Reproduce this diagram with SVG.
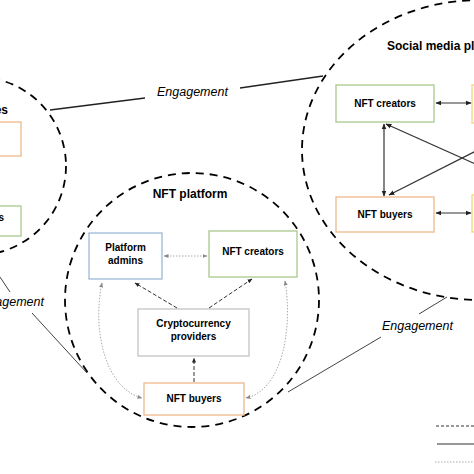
<svg xmlns="http://www.w3.org/2000/svg" width="474" height="474" viewBox="0 0 474 474">
<style>
text{font-family:"Liberation Sans",Arial,sans-serif;fill:#000}
.t{font-weight:bold;font-size:10px;text-anchor:middle}
.h{font-weight:bold;font-size:12px;text-anchor:middle}
.e{font-style:italic;font-size:12.5px}
.ring{fill:none;stroke:#000;stroke-width:1.8;stroke-dasharray:8 6}
.box{fill:#fff;stroke-width:1.3}
.g{stroke:#a9c98c}.o{stroke:#f0b88a}.b{stroke:#9dbbd8}.gr{stroke:#c4c4c4}.y{stroke:#f3d77e;fill:#fffbe9}
.sol{fill:none;stroke:#333;stroke-width:1.2}
.eng{fill:none;stroke:#222;stroke-width:1.5}
.eng2{fill:none;stroke:#444;stroke-width:1}
.dsh{fill:none;stroke:#333;stroke-width:1;stroke-dasharray:4 2}
.dot{fill:none;stroke:#aaa;stroke-width:1;stroke-dasharray:1.5 1.5}
</style>
<defs>
<marker id="ab" viewBox="0 0 10 10" refX="9" refY="5" markerWidth="5" markerHeight="5" orient="auto-start-reverse"><path d="M0,1L10,5L0,9z" fill="#222"/></marker>
<marker id="ag" viewBox="0 0 10 10" refX="9" refY="5" markerWidth="5" markerHeight="5" orient="auto-start-reverse"><path d="M0,1L10,5L0,9z" fill="#888"/></marker>
</defs>
<rect width="474" height="474" fill="#fff"/>

<g id="rings">
<circle class="ring" cx="-23" cy="166" r="89"/>
<circle class="ring" cx="192" cy="300" r="127"/>
<ellipse class="ring" cx="480" cy="150" rx="178" ry="150"/>
</g>

<g id="left-community">
<text class="h" x="8" y="114" style="text-anchor:end">es</text>
<rect class="box o" x="-40" y="122" width="61" height="34"/>
<rect class="box g" x="-40" y="206" width="61" height="30"/>
<text class="t" x="4" y="221" style="text-anchor:end">s</text>
</g>

<g id="nft-platform">
<text class="h" x="190" y="198">NFT platform</text>
<g id="np-admins"><rect class="box b" x="89" y="233" width="73" height="46"/>
<text class="t" x="125.5" y="251">Platform</text><text class="t" x="125.5" y="264">admins</text></g>
<g id="np-creators"><rect class="box g" x="209" y="231" width="88" height="46"/>
<text class="t" x="253" y="255">NFT creators</text></g>
<g id="np-crypto"><rect class="box gr" x="138" y="309" width="111" height="47"/>
<text class="t" x="193.5" y="327">Cryptocurrency</text><text class="t" x="193.5" y="340">providers</text></g>
<g id="np-buyers"><rect class="box o" x="144" y="383" width="100" height="32"/>
<text class="t" x="194" y="402">NFT buyers</text></g>
</g>

<g id="social-media">
<text class="h" x="387" y="50" style="text-anchor:start">Social media pl</text>
<g id="sm-creators"><rect class="box g" x="336" y="85" width="98" height="37"/>
<text class="t" x="385" y="107">NFT creators</text></g>
<g id="sm-buyers"><rect class="box o" x="336" y="197" width="98" height="35"/>
<text class="t" x="385" y="218">NFT buyers</text></g>
<rect class="box y" x="472" y="85" width="40" height="38" stroke-width="2"/>
<rect class="box y" x="472" y="195" width="40" height="37" stroke-width="2"/>
</g>

<g id="connectors">
<line class="dot" x1="164" y1="256" x2="207" y2="256" marker-start="url(#ag)" marker-end="url(#ag)"/>
<line class="dsh" x1="177" y1="308" x2="135" y2="283" marker-end="url(#ab)"/>
<line class="dsh" x1="209" y1="308" x2="252" y2="279" marker-end="url(#ab)"/>
<line class="dsh" x1="194" y1="382" x2="194" y2="358" marker-end="url(#ab)"/>
<path class="dot" d="M102,283C92,330 105,388 142,398" marker-start="url(#ag)" marker-end="url(#ag)"/>
<path class="dot" d="M285,281C293,330 282,390 246,398" marker-start="url(#ag)" marker-end="url(#ag)"/>

<line class="sol" x1="436" y1="103" x2="471" y2="103" marker-start="url(#ab)" marker-end="url(#ab)"/>
<line class="sol" x1="436" y1="213" x2="471" y2="213" marker-start="url(#ab)" marker-end="url(#ab)"/>
<line class="sol" x1="384" y1="124" x2="384" y2="196" marker-start="url(#ab)" marker-end="url(#ab)"/>
<line class="sol" x1="386" y1="124" x2="480" y2="166" marker-start="url(#ab)"/>
<line class="sol" x1="389" y1="195" x2="480" y2="149" marker-start="url(#ab)"/>

<line class="eng" x1="50" y1="110" x2="145" y2="98"/>
<line class="eng" x1="240" y1="88" x2="323" y2="76"/>
<line class="eng2" x1="0" y1="277" x2="10" y2="292"/>
<line class="eng2" x1="32" y1="313" x2="87" y2="373"/>
<line class="eng2" x1="419" y1="314" x2="447" y2="297"/>
<line class="eng2" x1="381" y1="337" x2="288" y2="392"/>
</g>

<g id="labels">
<text class="e" x="157" y="96">Engagement</text>
<text class="e" x="44" y="306" style="text-anchor:end">gagement</text>
<text class="e" x="382" y="330">Engagement</text>
</g>

<g id="legend">
<line x1="436" y1="426" x2="474" y2="426" stroke="#333" stroke-width="1" stroke-dasharray="3 2"/>
<line x1="437" y1="444" x2="474" y2="444" stroke="#333" stroke-width="1.2"/>
<line x1="435" y1="462" x2="474" y2="462" stroke="#aaa" stroke-width="1" stroke-dasharray="1.5 1.5"/>
</g>
</svg>
